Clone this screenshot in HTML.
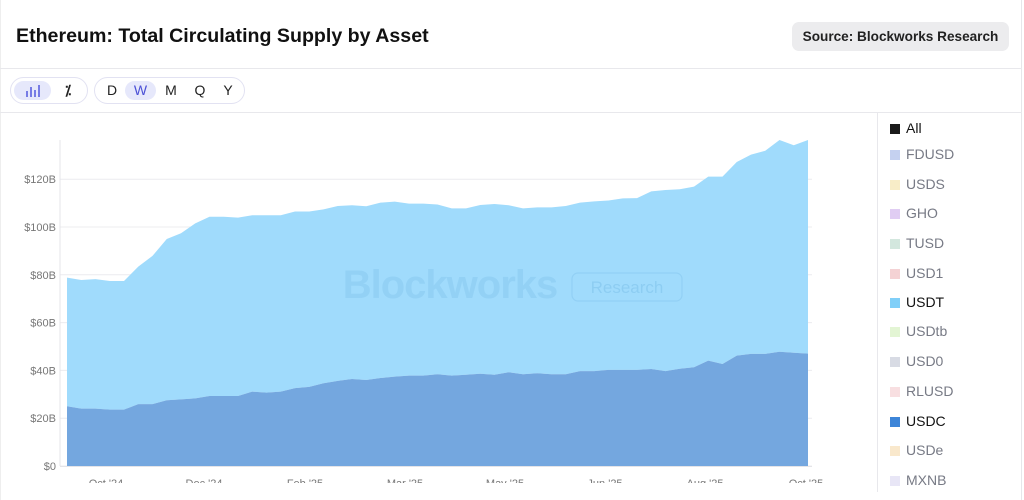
<!DOCTYPE html>
<html><head><meta charset="utf-8">
<style>
*{box-sizing:border-box;margin:0;padding:0}
body{width:1024px;height:483px;overflow:hidden;background:#fff;font-family:"Liberation Sans",sans-serif;position:relative}
.card{position:absolute;left:0;top:0;width:1022px;height:500px;border-right:1px solid #e6e6ea;border-left:1px solid #eee}
.title{position:absolute;left:16px;top:25px;font-size:19.6px;font-weight:bold;color:#111}
.src{position:absolute;left:792px;top:22px;width:217px;height:29px;background:#ececee;border-radius:7px;font-size:13.6px;color:#222;text-align:center;line-height:29px;font-weight:bold}
.hr{position:absolute;left:0;width:1022px;height:1px;background:#e8e8ec}
.grp{position:absolute;top:77px;height:27px;border:1px solid #e2e2f2;border-radius:14px}
.btn{position:absolute;top:3px;height:19px;border-radius:10px;font-size:14px;color:#222;text-align:center;line-height:19px}
.btn.on{background:#e6e8fb;color:#4b50d6}
.leg{position:absolute;left:890px;font-size:14px;color:#777a85}
.leg i{position:absolute;left:0;top:4px;width:10px;height:10px}
.leg span{position:absolute;left:16px;top:0;white-space:nowrap}
</style></head><body>
<div class="card"></div>
<div class="title">Ethereum: Total Circulating Supply by Asset</div>
<div class="src">Source: Blockworks Research</div>
<div class="hr" style="top:68px"></div>
<div class="hr" style="top:112px"></div>
<div class="grp" style="left:10px;width:78px">
 <div class="btn on" style="left:3px;width:37px">
  <svg width="16" height="14" viewBox="0 0 16 14" style="margin-top:3px"><g stroke="#5b60e0" stroke-width="1.6"><line x1="2" y1="13" x2="2" y2="7"/><line x1="6" y1="13" x2="6" y2="3"/><line x1="10" y1="13" x2="10" y2="6"/><line x1="14" y1="13" x2="14" y2="1"/></g></svg></div>
 <div class="btn" style="left:44px;width:26px;font-weight:bold">⁒</div>
</div>
<div class="grp" style="left:94px;width:151px">
 <div class="btn" style="left:4px;width:26px">D</div>
 <div class="btn on" style="left:30px;width:31px">W</div>
 <div class="btn" style="left:62px;width:28px">M</div>
 <div class="btn" style="left:91px;width:28px">Q</div>
 <div class="btn" style="left:119px;width:28px">Y</div>
</div>
<div style="position:absolute;left:877px;top:112px;width:1px;height:380px;background:#e8e8ec"></div>
<svg id="chart" width="870" height="483" style="position:absolute;left:0;top:0"></svg>
<div id="legend"></div>
<script>
const categories=['Oct \'24','Dec \'24','Feb \'25','Mar \'25','May \'25','Jun \'25','Aug \'25','Oct \'25'];
const usdc=[25.0,24.0,24.0,23.6,23.6,25.9,25.9,27.5,27.9,28.3,29.3,29.3,29.3,31.1,30.7,31.1,32.6,33.1,34.6,35.6,36.4,36.0,36.8,37.4,37.8,37.8,38.4,37.8,38.2,38.6,38.2,39.2,38.4,38.8,38.4,38.4,39.7,39.7,40.2,40.2,40.2,40.6,39.7,40.7,41.3,44.1,42.7,46.2,46.9,46.9,47.8,47.4,47.0];
const usdt=[53.8,53.8,54.2,53.8,53.8,57.5,62.0,67.5,69.5,73.2,75.0,75.0,74.6,73.8,74.2,73.8,73.9,73.4,72.8,73.2,72.7,72.7,73.4,73.2,72.0,72.0,71.0,70.0,69.6,70.6,71.4,69.9,69.4,69.4,69.8,70.4,70.5,71.0,70.9,71.8,71.9,74.3,75.8,75.1,75.6,77.0,78.4,81.0,83.4,85.0,88.6,86.8,89.4];
const yTicks=[0,20,40,60,80,100,120];
const yTickLabels=['$0','$20B','$40B','$60B','$80B','$100B','$120B'];
const legendNames=['All','FDUSD','USDS','GHO','TUSD','USD1','USDT','USDtb','USD0','RLUSD','USDC','USDe','MXNB'];
const legendColors=['#1a1a1a','#c5d1f0','#f8edc8','#e0cdf3','#d3e7de','#f4d2d4','#80cff8','#e3f5d4','#d8dbe4','#f8dfe1','#3d85d8','#f9e8cc','#e8e6f6'];
const labelX=[106,204,305,405,505,605,705,806];

const svg=document.getElementById('chart');const NS='http://www.w3.org/2000/svg';
const n=usdc.length;
const X=i=>67+i*(808-67)/(n-1);
const Y=v=>466-v*2.39;
function mk(t,a,p){const e=document.createElementNS(NS,t);for(const k in a)e.setAttribute(k,a[k]);(p||svg).appendChild(e);return e;}
yTicks.forEach((t,i)=>{
 const g=mk('line',{x1:60,x2:812,y1:Y(t),y2:Y(t),stroke:'#ececef','stroke-width':1});
 
 
 const l=mk('text',{x:56,y:Y(t)+4,'text-anchor':'end','font-size':11,fill:'#777','font-family':'Liberation Sans'});
 l.textContent=yTickLabels[i];
 
 
});
const ax=mk('line',{x1:60,x2:60,y1:140,y2:466,stroke:'#e4e4e8'});


function area(lo,hi,color,name){
 let d='M'+X(0)+','+Y(hi[0]);
 for(let i=1;i<n;i++)d+='L'+X(i)+','+Y(hi[i]);
 for(let i=n-1;i>=0;i--)d+='L'+X(i)+','+Y(lo[i]);
 const p=mk('path',{d:d+'Z',fill:color});
 
 
}
const zero=usdc.map(()=>0);
const tot=usdc.map((v,i)=>v+usdt[i]);
area(usdc,tot,'#a0dbfc','usdt-area');
area(zero,usdc,'#74a7df','usdc-area');
const wm=mk('text',{x:450,y:298,'text-anchor':'middle','font-size':40,'font-weight':'bold',fill:'#7cc0ea',opacity:0.35,'font-family':'Liberation Sans','letter-spacing':'-1'});
wm.textContent='Blockworks';


const wm2=mk('rect',{x:572,y:273,width:110,height:28,rx:6,fill:'none',stroke:'#7cc0ea','stroke-width':1.2,opacity:0.4});


const wt=mk('text',{x:627,y:293,'text-anchor':'middle','font-size':17,fill:'#7cc0ea','font-family':'Liberation Sans',opacity:0.5});
wt.textContent='Research';


mk('line',{x1:60,x2:812,y1:466.5,y2:466.5,stroke:'#e4e4e8'});
categories.forEach((c,i)=>{
 const t=mk('text',{x:labelX[i],y:487,'text-anchor':'middle','font-size':11,fill:'#777','font-family':'Liberation Sans'});
 t.textContent=c;
 
 
});
const lg=document.getElementById('legend');
const ys=[120,146,176,205,235,265,294,323,353,383,413,442,472];
legendNames.forEach((nm,i)=>{
 const d=document.createElement('div');d.className='leg';d.style.top=ys[i]+'px';
 const dark=(nm==='All'||nm==='USDT'||nm==='USDC');
 d.innerHTML='<i style="background:'+legendColors[i]+'"></i><span style="color:'+(dark?'#111':'#777a85')+'">'+nm+'</span>';
 
 
 lg.appendChild(d);
});
</script>
</body></html>
